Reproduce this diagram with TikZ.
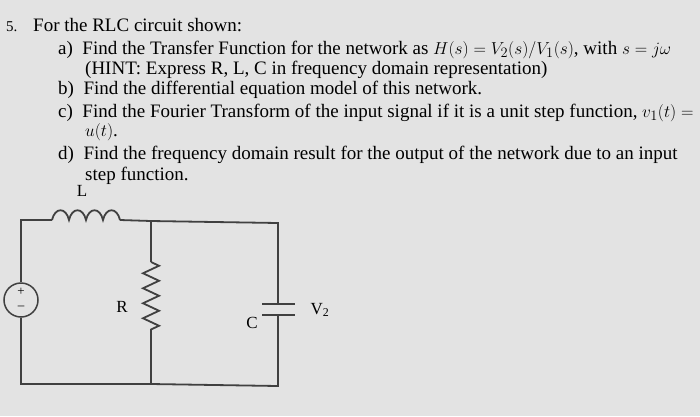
\documentclass[tikz,border=0pt]{standalone}
\usepackage{fontspec}
\setmainfont{Liberation Serif}
\usetikzlibrary{decorations.pathmorphing}
\begin{document}
\begin{tikzpicture}[x=1pt,y=-1pt,
  txt/.style={anchor=base west,inner sep=0,font=\fontsize{19}{22}\selectfont},
  lbl/.style={inner sep=0,font=\fontsize{17}{20}\selectfont},
  wire/.style={line width=1.8pt,color=black!75}]
\fill[black!11] (0,0) rectangle (700,416);
\useasboundingbox (0,0) rectangle (700,416);
\node[txt,font=\fontsize{15}{18}\selectfont] (t00) at (6,31) {5.};
\node[txt] (t0) at (33,31) {For the RLC circuit shown:};
\node[txt] (t1) at (58,54) {a)\hspace{0.5em}Find the Transfer Function for the network as $H(s)=V_2(s)/V_1(s)$, with $s=j\omega$};
\node[txt] (t2) at (85,74) {(HINT: Express R, L, C in frequency domain representation)};
\node[txt] (t3) at (58,94) {b)\hspace{0.5em}Find the differential equation model of this network.};
\node[txt] (t4) at (58,117) {c)\hspace{0.5em}Find the Fourier Transform of the input signal if it is a unit step function, $v_1(t)=$};
\node[txt] (t5) at (85,136) {$u(t)$.};
\node[txt] (t6) at (58,159) {d)\hspace{0.5em}Find the frequency domain result for the output of the network due to an input};
\node[txt] (t7) at (85,180) {step function.};
% circuit
\coordinate (tl) at (21,220);
\coordinate (l1) at (52,220);
\coordinate (l2) at (120,220);
\coordinate (tm) at (151,221);
\coordinate (tr) at (278,223);
\coordinate (bl) at (21,384);
\coordinate (bm) at (151,384);
\coordinate (br) at (278,386);
\coordinate (r1) at (151,262);
\coordinate (r2) at (151,330);
\coordinate (c1) at (278,304);
\coordinate (c2) at (278,315);
\node[circle,draw=black!75,line width=1.5pt,minimum size=34pt,inner sep=0] (src) at (21,300) {};
\node[font=\fontsize{13}{13}\selectfont,inner sep=0] (sp) at (21,292) {+};
\node[font=\fontsize{13}{13}\selectfont,inner sep=0] (sm) at (21,308) {--};
\draw[wire] (src.north) -- (tl) -- (l1);
\draw[wire] (l1) .. controls (55,207) and (66,207) .. (69,220)
  .. controls (72,207) and (83,207) .. (86,220)
  .. controls (89,207) and (100,207) .. (103,220)
  .. controls (106,207) and (117,207) .. (120,220);
\draw[wire] (l2) -- (tm) -- (tr) -- (c1);
\draw[wire] (tm) -- (r1);
\draw[wire,decoration={zigzag,segment length=15pt,amplitude=8pt},decorate] (r1) -- (r2);
\draw[wire] (r2) -- (bm);
\draw[wire] (src.south) -- (bl) -- (bm) -- (br) -- (c2);
\draw[wire,line width=2.4pt] (262,304) -- (295,304);
\draw[wire,line width=2.4pt] (262,315) -- (295,315);
\node[lbl] (Ll) at (82,191) {L};
\node[lbl] (Rl) at (122,307) {R};
\node[lbl] (Cl) at (252,323) {C};
\node[lbl] (Vl) at (320,310) {V\textsubscript{2}};
\end{tikzpicture}
\end{document}
